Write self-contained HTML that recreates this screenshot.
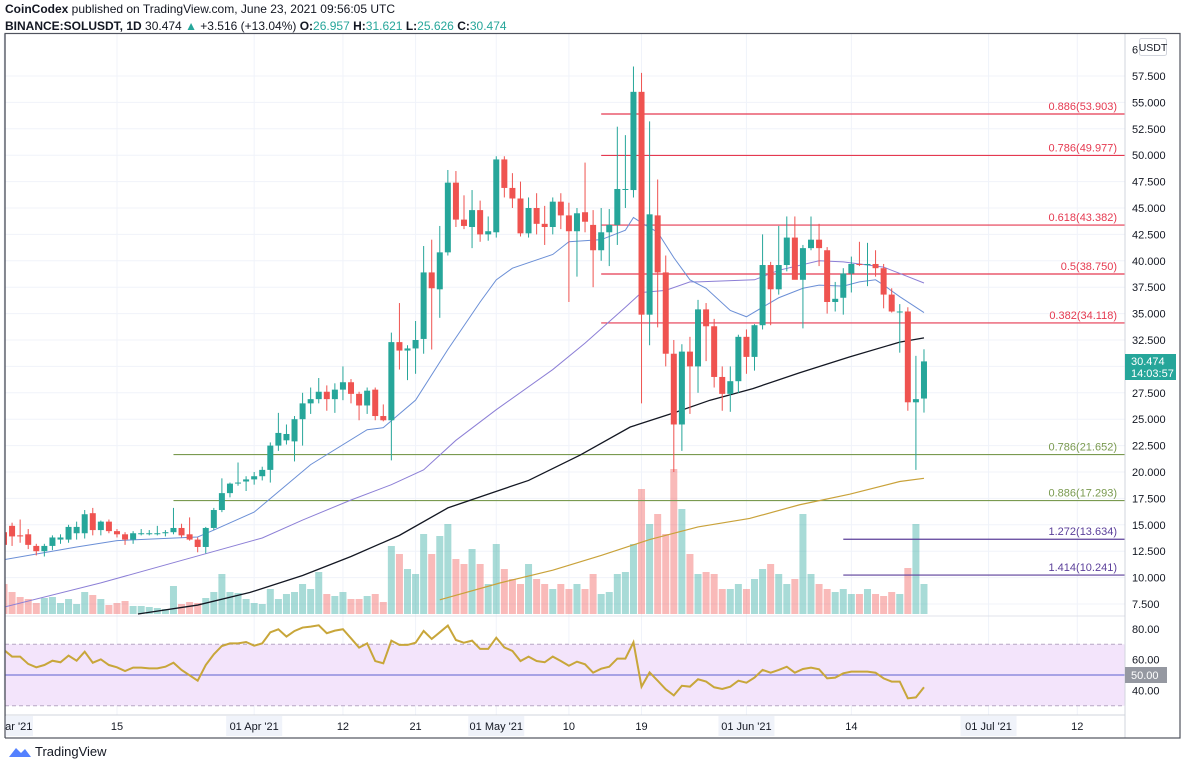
<!DOCTYPE html>
<html><head><meta charset="utf-8">
<style>
html,body{margin:0;padding:0;background:#fff;width:1186px;height:768px;overflow:hidden;font-family:"Liberation Sans",sans-serif}
#hdr1{position:absolute;left:5px;top:2px;font-size:12px;color:#131722}
#hdr2{position:absolute;left:5px;top:19px;font-size:12px;color:#131722}
.g{color:#26a69a}
#foot{position:absolute;left:8px;top:744px;font-size:13px;color:#131722;display:flex;align-items:center;gap:3px}
svg{position:absolute;left:0;top:0}
</style></head><body>
<div id="hdr1"><b>CoinCodex</b> published on TradingView.com, June 23, 2021 09:56:05 UTC</div>
<div id="hdr2"><b>BINANCE:SOLUSDT, 1D</b> 30.474 <span class="g">▲</span> +3.516 (+13.04%) <b>O:</b><span class="g">26.957</span> <b>H:</b><span class="g">31.621</span> <b>L:</b><span class="g">25.626</span> <b>C:</b><span class="g">30.474</span></div>
<div id="foot"><svg width="24" height="14" style="position:static"><path d="M1 12 L8 3 L13 8 L17 4 L23 12 Z" fill="#2962ff" opacity="0.8"/></svg>TradingView</div>
<svg id="chart" width="1186" height="768"></svg>
<script>
const opens=[14.3,14.9,14.0,14.1,13.0,12.5,13.0,13.6,13.6,14.2,14.2,16.1,14.5,15.3,14.4,14.1,13.6,14.2,14.2,14.2,14.2,14.3,14.7,14.1,13.6,12.9,14.7,16.4,18.0,19.0,19.1,19.3,19.6,20.2,22.5,23.0,22.9,25.0,26.5,26.9,27.6,26.9,27.8,28.5,27.4,26.3,27.8,25.3,24.9,32.3,31.5,31.7,32.6,38.9,37.3,40.8,47.4,43.9,43.2,44.8,42.5,42.7,49.6,46.9,45.9,42.6,45.0,43.5,43.2,45.6,44.3,42.8,44.6,43.4,41.0,42.7,43.4,46.8,46.7,56.0,34.9,44.3,38.9,31.2,24.5,31.4,30.0,35.4,33.8,29.0,27.4,28.6,32.8,30.9,33.9,39.6,37.3,39.6,42.2,38.2,41.2,42.0,41.0,36.1,36.5,38.8,39.7,39.6,39.7,39.3,36.8,35.2,35.2,26.6,26.957];
const highs=[14.8,15.2,15.5,14.6,13.2,13.2,14.0,14.1,15.0,15.3,16.4,16.6,15.4,15.5,14.6,14.3,14.4,14.6,14.5,14.9,14.5,16.6,15.1,15.7,13.8,14.8,16.6,19.4,19.0,20.9,19.6,20.0,20.5,22.8,25.6,24.5,25.3,27.5,28.0,28.9,28.2,28.4,30.0,28.8,27.6,28.0,28.0,26.4,33.2,36.0,32.0,34.3,41.4,42.0,43.3,48.6,48.5,46.2,46.7,45.7,44.2,49.9,49.9,48.3,47.5,46.0,46.4,45.2,46.0,46.4,45.5,45.0,49.3,44.8,45.0,44.9,52.7,51.9,58.4,57.8,53.2,47.7,40.5,32.5,32.1,32.8,36.3,36.0,34.5,30.0,30.0,33.0,33.5,34.0,42.5,39.9,43.3,44.2,44.2,41.5,44.2,43.5,41.3,38.0,39.3,40.4,41.8,41.7,41.0,39.7,37.4,35.9,35.6,31.0,31.621];
const lows=[12.6,13.0,13.3,12.7,12.1,12.0,12.6,13.2,13.3,13.6,13.7,14.0,14.0,14.2,13.8,13.1,13.2,14.0,14.0,14.0,13.9,14.1,13.8,13.5,12.4,12.3,14.5,16.2,17.6,18.7,18.2,18.8,19.2,19.0,22.0,22.6,21.0,22.5,25.5,26.5,25.8,25.6,26.8,26.5,24.9,25.5,24.9,24.8,21.1,29.7,28.7,29.3,31.2,31.6,34.6,40.5,43.2,43.0,41.2,41.8,41.9,42.2,46.0,45.0,42.3,42.2,42.5,41.5,42.5,43.0,36.1,38.5,42.7,37.5,40.0,39.5,41.5,45.0,46.0,26.5,32.0,33.7,30.0,20.0,22.0,25.5,27.5,30.5,28.0,25.8,25.7,27.5,29.3,29.6,33.5,33.9,36.8,39.0,38.4,33.6,41.0,39.5,35.0,35.2,34.9,37.0,39.5,37.6,38.5,35.5,35.1,31.3,25.8,20.2,25.626];
const closes=[13.1,13.9,13.9,13.1,12.5,13.0,13.8,13.8,14.8,14.8,16.0,14.5,15.3,14.4,14.1,13.6,14.2,14.2,14.2,14.2,14.3,14.7,14.0,13.6,12.9,14.7,16.4,18.0,18.9,19.0,19.3,19.6,20.2,22.5,23.7,23.6,25.0,26.5,26.9,27.6,26.9,27.8,28.5,27.4,26.3,27.7,25.3,24.9,32.3,31.5,31.7,32.5,38.9,37.4,40.8,47.4,43.9,43.3,44.8,42.5,42.8,49.6,46.9,45.9,42.6,45.0,43.5,43.2,45.6,44.3,42.8,44.5,43.7,41.0,42.7,43.4,46.8,46.8,56.0,34.9,44.4,38.9,31.2,24.5,31.4,30.0,35.4,33.8,29.0,27.4,28.6,32.8,30.9,33.9,39.6,37.3,39.6,42.2,38.2,41.2,42.0,41.2,36.1,36.4,38.8,39.7,39.6,39.7,39.3,36.8,35.2,35.2,26.6,26.9,30.474];
const volumes=[30,22,17,15,11,16,17,11,15,10,22,19,15,9,11,13,8,8,7,6,5,28,10,12,11,16,22,40,22,21,15,11,10,25,15,20,22,30,25,42,20,18,22,15,15,18,20,12,68,60,45,40,80,60,78,90,55,50,65,50,30,70,45,35,30,50,35,30,25,30,25,30,25,40,20,22,40,42,70,125,90,100,80,145,105,60,40,42,40,25,25,30,25,35,45,50,40,30,35,100,40,30,25,22,25,20,20,25,20,18,22,20,46,90,30];
const rsi=[66.3,62,62,57.2,55,56.5,59.3,58.3,62.6,59.3,65.2,58,60.2,56.5,55,52.6,54.8,54.8,54.3,54.3,55.4,58,53.3,49.8,46.3,56.5,63.5,68.9,70.6,70.6,71.5,69.1,70.6,77.8,79.8,75,78.7,80.9,81.5,82.4,77.2,78.9,79.8,73.9,67.8,70.6,59.1,57.6,72.4,69.6,69.6,71,78.7,73.5,77.8,82.2,72.8,71,72.4,67,67,74.3,68,65.7,59.1,62,59.1,58.3,62,59.1,56,58.7,57,51.5,54.1,55.4,60.7,60.7,71.3,42.4,51.7,46.3,40.7,36.7,43,42.4,47.2,45.7,42,40.9,42.4,46.3,45,48.3,53.3,51.5,53.3,55.4,51.5,53.9,54.8,53.7,47.8,48.3,51.1,52.2,52.2,52.2,51.5,47.8,45.7,45.7,34.8,35.4,42];
const ma20Days=[0,9,14,24,26,31,38,45,47,51,55,59,61,63,68,70,74,77,78,79,81,83,85,87,90,92,96,99,101,104,106,108,109,111,114];
const ma20Vals=[11.7,12.9,13.5,13.85,14.5,16.2,20.7,24.0,24.2,26.8,31.6,36.1,38.2,39.3,40.6,41.8,42.0,42.9,44.1,43.6,42.7,40.3,38.2,37.4,35.3,34.7,36.5,37.4,37.7,37.6,38.0,38.2,37.7,36.6,35.1];
const ma50Days=[0,12,24,32,37,43,48,52,56,61,68,72,77,79,82,85,86,93,96,101,104,107,109,111,114];
const ma50Vals=[7.2,9.5,12.05,13.75,15.45,17.35,18.8,20.2,23.0,25.9,29.7,32.2,35.6,37.0,37.2,38.0,38.0,38.2,39.1,40.0,39.9,39.6,39.4,38.8,37.9];
const ma100Days=[16.6,24,30.5,37,43,49,55,61.5,65,71.4,77.6,83,87.5,92.8,98.6,104.8,111,114];
const ma100Vals=[6.55,7.4,8.6,10.2,12.0,14.0,16.6,18.3,19.2,21.6,24.26,25.6,26.8,27.9,29.4,30.9,32.3,32.7];
const ma200Days=[54,61.5,68,74,80,86,92.4,98.6,104.8,111,114];
const ma200Vals=[7.9,9.5,10.7,12.1,13.6,14.8,15.6,16.9,17.9,19.1,19.4];
const fibLabels=['0.886(53.903)','0.786(49.977)','0.618(43.382)','0.5(38.750)','0.382(34.118)','0.786(21.652)','0.886(17.293)','1.272(13.634)','1.414(10.241)'];
const fibPrices=[53.903,49.977,43.382,38.750,34.118,21.652,17.293,13.634,10.241];
const fibStartDays=[74,74,74,74,74,21,21,104,104];
const fibColors=['#e53950','#e53950','#e53950','#e53950','#e53950','#7a9a50','#7a9a50','#5b3f9a','#5b3f9a'];
const priceTicks=[57.5,55,52.5,50,47.5,45,42.5,40,37.5,35,32.5,30,27.5,25,22.5,20,17.5,15,12.5,10,7.5];
const dateDays=[0,14,31,42,51,61,70,79,92,105,122,133];
const dateLabels=["Mar '21","15","01 Apr '21","12","21","01 May '21","10","19","01 Jun '21","14","01 Jul '21","12"];
const rsiTicks=[80,60,40];

const X=d=>4+d*8.07;
const Y=p=>76+(57.5-p)*10.56;
const RY=v=>675-(v-50)*1.535;
const VB=614, VS=1.0;
const svg=document.getElementById('chart');
const NS='http://www.w3.org/2000/svg';
function mk(tag,attrs,parent){const e=document.createElementNS(NS,tag);for(const k in attrs)e.setAttribute(k,attrs[k]);(parent||svg).appendChild(e);return e;}
const PL=5,PR=1125,PT=34,PB=715;
const clip=mk('clipPath',{id:'pc'});mk('rect',{x:PL,y:PT,width:PR-PL,height:PB-PT},clip);
const grid=mk('g',{});


priceTicks.forEach(p=>mk('line',{x1:PL,x2:PR,y1:Y(p),y2:Y(p),stroke:'#f0f3fa'},grid));
dateDays.forEach(d=>mk('line',{x1:X(d),x2:X(d),y1:PT,y2:PB,stroke:'#f0f3fa'},grid));
const rg=mk('g',{'clip-path':'url(#pc)'});


mk('rect',{x:PL,y:RY(70),width:PR-PL,height:RY(30)-RY(70),fill:'#f3e4fb'},rg);
mk('line',{x1:PL,x2:PR,y1:RY(70),y2:RY(70),stroke:'#b8a8c4','stroke-dasharray':'4,3'},rg);
mk('line',{x1:PL,x2:PR,y1:RY(30),y2:RY(30),stroke:'#b8a8c4','stroke-dasharray':'4,3'},rg);
mk('line',{x1:PL,x2:PR,y1:RY(50),y2:RY(50),stroke:'#7a7ad8','stroke-width':1.2},rg);
const rp=mk('polyline',{points:rsi.map((v,i)=>X(i)+','+RY(v)).join(' '),fill:'none',stroke:'#c8a63a','stroke-width':2},rg);


mk('line',{x1:PL,x2:PR,y1:616,y2:616,stroke:'#e0e3eb'});
const main=mk('g',{'clip-path':'url(#pc)'});
volumes.forEach((v,i)=>{const up=closes[i]>=opens[i];
 const r=mk('rect',{x:X(i)-3.5,y:VB-v*VS,width:7,height:v*VS,fill:up?'rgba(38,166,154,0.4)':'rgba(239,83,80,0.4)'},main);
 
 });
fibPrices.forEach((p,i)=>{
 const l=mk('line',{x1:X(fibStartDays[i]),x2:PR,y1:Y(p),y2:Y(p),stroke:fibColors[i],'stroke-width':1.2},main);
 
 
 const t=mk('text',{x:1117,y:Y(p)-4,'text-anchor':'end','font-size':11,fill:fibColors[i]},main);
 t.textContent=fibLabels[i];
 
 });
function line(days,vals,color,name,w){const p=mk('polyline',{points:days.map((d,i)=>X(d)+','+Y(vals[i])).join(' '),fill:'none',stroke:color,'stroke-width':w},main);
 
 }
line(ma200Days,ma200Vals,'#c9a23a','ma200-line',1.2);
line(ma100Days,ma100Vals,'#131722','ma100-line',1.3);
line(ma50Days,ma50Vals,'#8c7fd6','ma50-line',1);
line(ma20Days,ma20Vals,'#6b8fd6','ma20-line',1);
opens.forEach((o,i)=>{const c=closes[i],up=c>=o,col=up?'#26a69a':'#ef5350',x=X(i);
 const g=mk('g',{},main);
 
 
 mk('line',{x1:x,x2:x,y1:Y(highs[i]),y2:Y(lows[i]),stroke:col,'stroke-width':1},g);
 const t=Y(Math.max(o,c)),b=Y(Math.min(o,c));
 mk('rect',{x:x-3,y:t,width:6,height:Math.max(1,b-t),fill:col},g);});
mk('line',{x1:PR,x2:PR,y1:PT,y2:738,stroke:'#d1d4dc'});
mk('line',{x1:PL,x2:PR,y1:PB,y2:PB,stroke:'#d1d4dc'});
mk('rect',{x:5,y:33.5,width:1175,height:704.5,fill:'none',stroke:'#50535e','stroke-width':1.2});
priceTicks.forEach(p=>{const t=mk('text',{x:1132,y:Y(p)+4,'font-size':11,fill:'#131722'});t.textContent=p.toFixed(3);
 
 });
const t60=mk('text',{x:1132,y:Y(60)+4,'font-size':11,fill:'#131722'});t60.textContent='6';
const ub=mk('g',{});


mk('rect',{x:1139.5,y:38.5,width:27,height:17,rx:2,fill:'#fff',stroke:'#d1d4dc'},ub);
const ut=mk('text',{x:1153,y:51,'font-size':10.5,'text-anchor':'middle',fill:'#131722'},ub);ut.textContent='USDT';
const pb=mk('g',{});


mk('rect',{x:1125,y:354,width:51,height:26,fill:'#26a69a'},pb);
const p1=mk('text',{x:1131,y:365,'font-size':11,fill:'#fff'},pb);p1.textContent='30.474';
const p2=mk('text',{x:1131,y:377,'font-size':11,fill:'#fff'},pb);p2.textContent='14:03:57';
rsiTicks.forEach(v=>{const t=mk('text',{x:1132,y:RY(v)+4,'font-size':11,fill:'#131722'});t.textContent=v.toFixed(2);
 
 });
mk('rect',{x:1125,y:RY(50)-8,width:42,height:16,fill:'#9598a1'});
const r50=mk('text',{x:1131,y:RY(50)+4,'font-size':11,fill:'#fff'});r50.textContent='50.00';
dateDays.forEach((d,i)=>{const lbl=dateLabels[i];
 const first=i===0;
 if(lbl.length>3){mk('rect',{x:first?0:X(d)-28,y:716,width:first?33:56,height:20,fill:'#f0f3fa'});}
 const t=mk('text',{x:first?-4:X(d),y:730,'font-size':11,'text-anchor':first?'start':'middle',fill:'#131722'});t.textContent=lbl;
 
 });
mk('rect',{x:0,y:700,width:5,height:40,fill:'#fff'});
mk('line',{x1:5,x2:5,y1:34,y2:738,stroke:'#50535e','stroke-width':1.2});
</script>
</body></html>
